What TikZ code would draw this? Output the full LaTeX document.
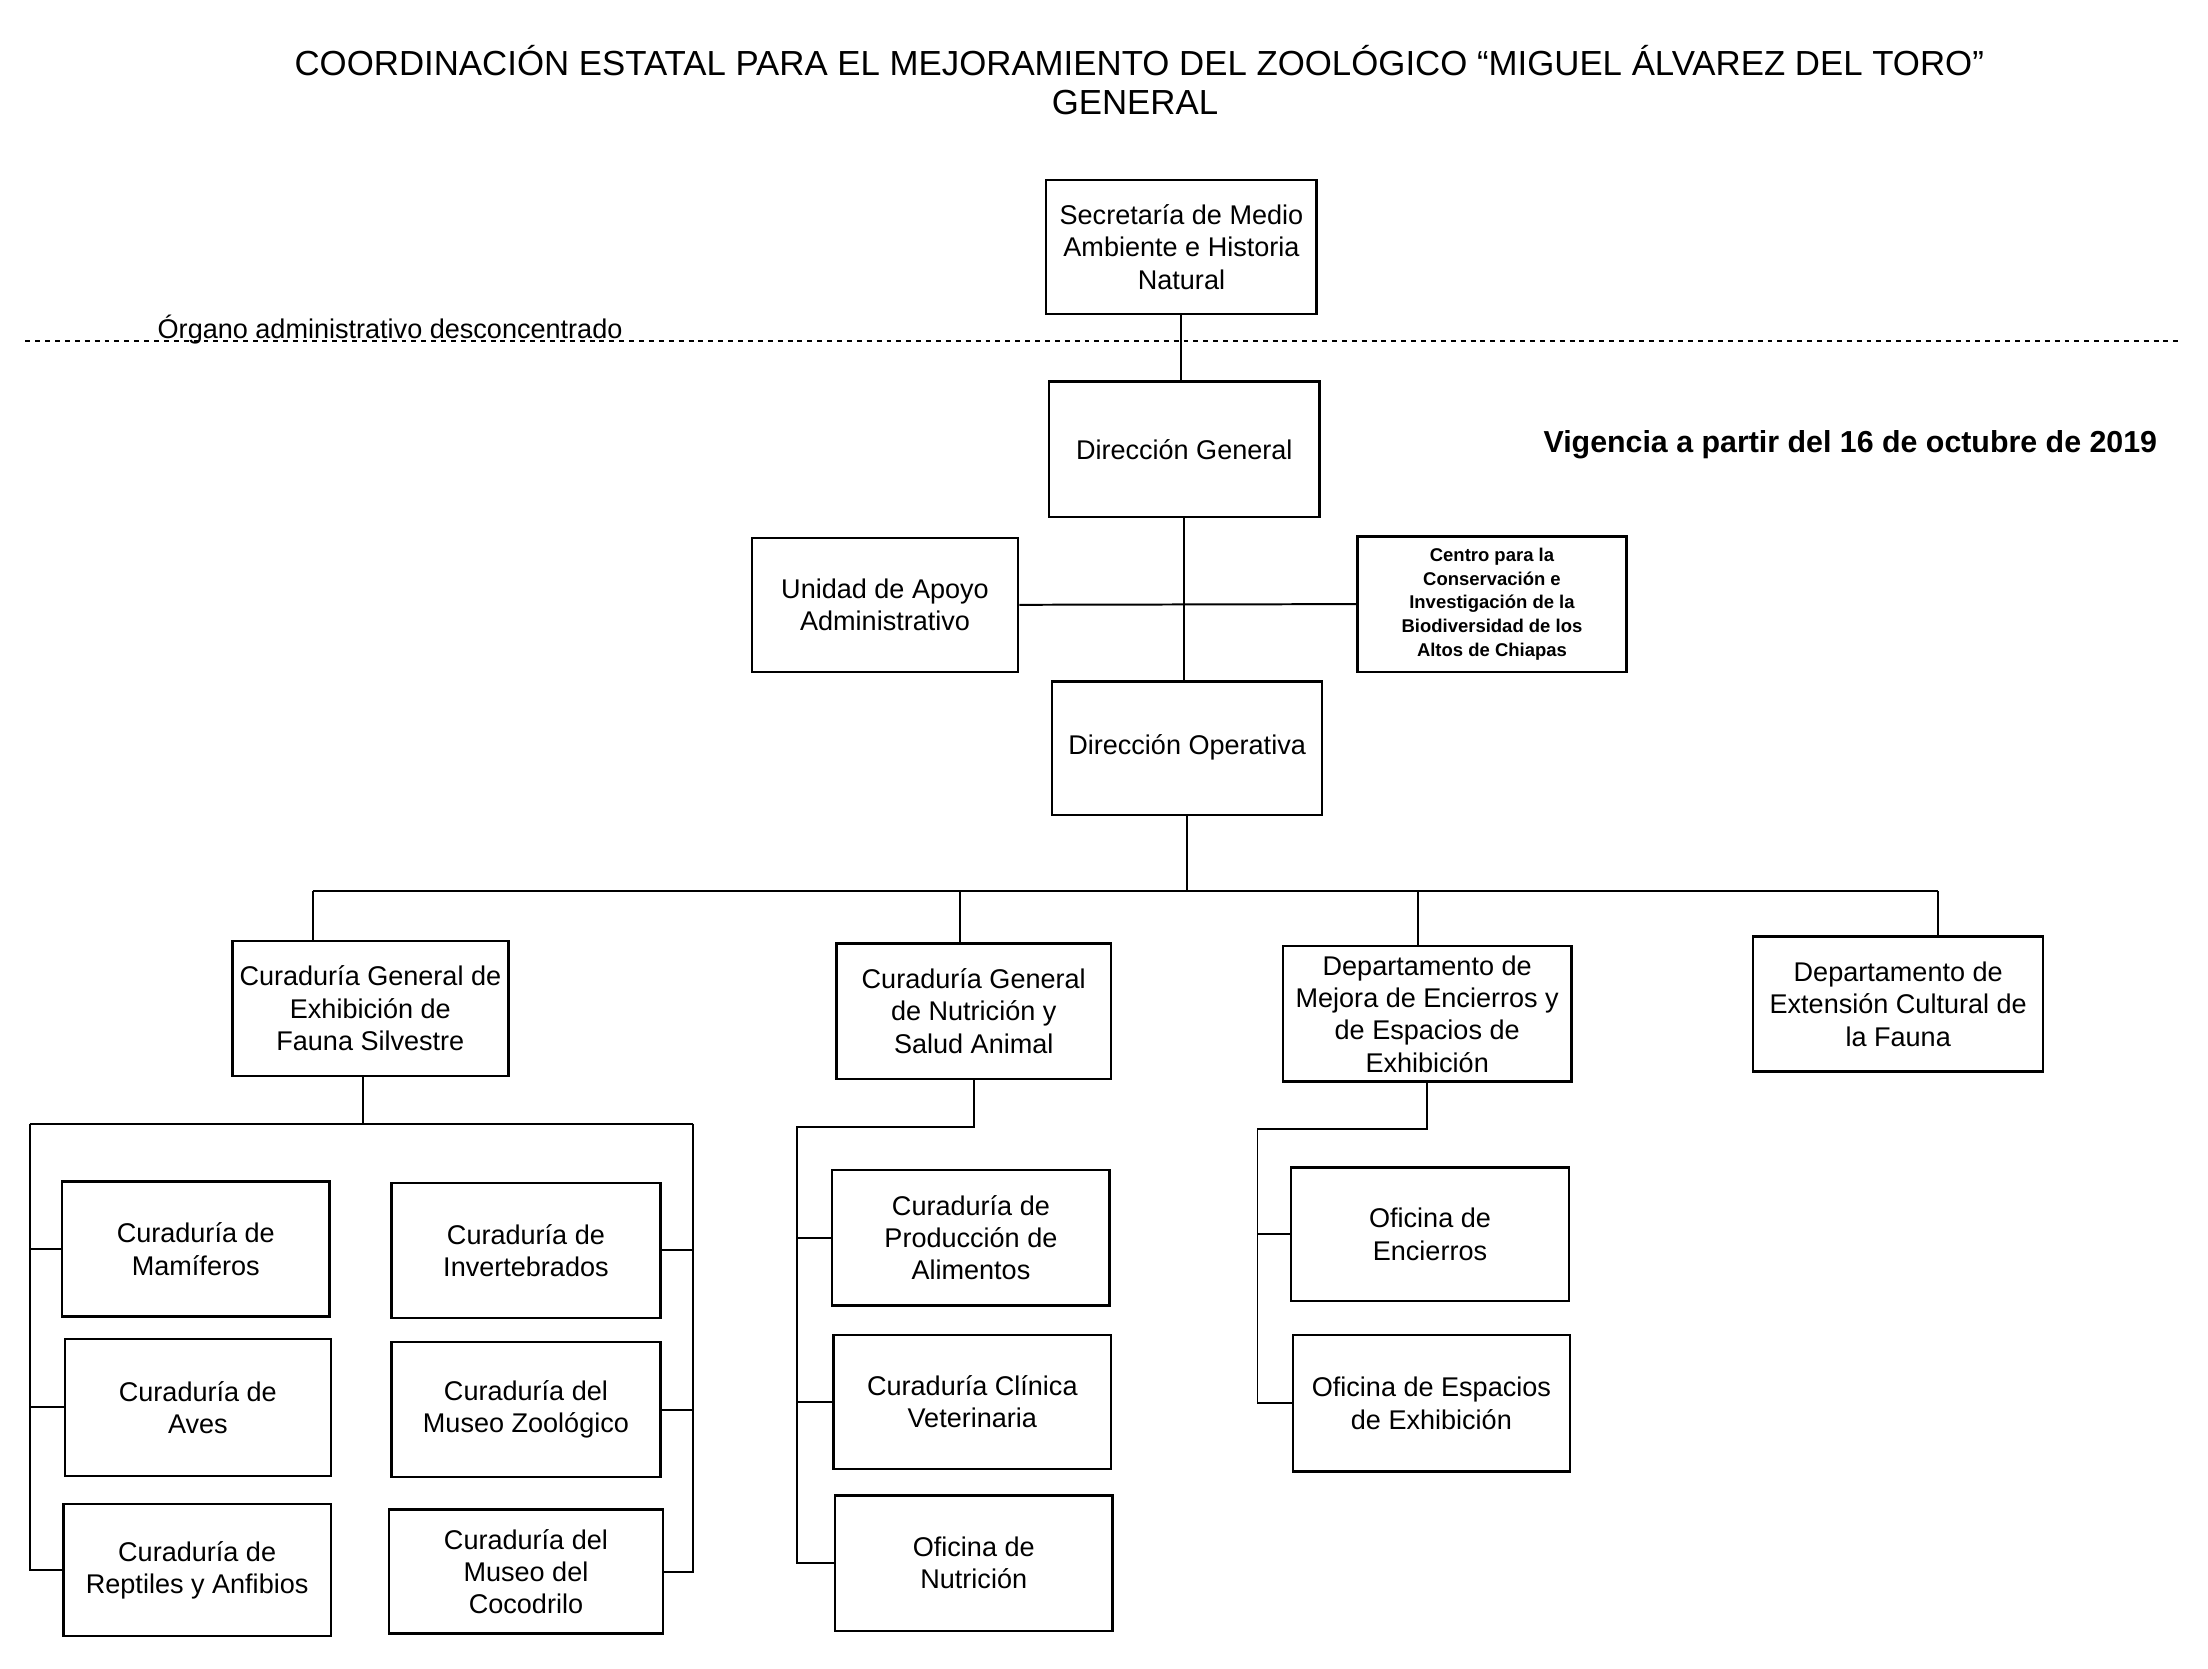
\documentclass[tikz,border=0pt]{standalone}
\usepackage{fontspec}
\setmainfont{Liberation Sans}
\newcommand{\cajafont}{\fontsize{16.4}{19.6}\selectfont}

\begin{document}
\begin{tikzpicture}[x=0.03cm, y=-0.03cm, line width=1.2pt,
  caja/.style 2 args={draw, line width=1.4pt, align=center, inner sep=0pt,
    minimum width=#1*0.03cm, minimum height=#2*0.03cm, font=\cajafont}]
\useasboundingbox (0,0) rectangle (1568,1185);
% Encabezado
\node (titulo) at (809,43) {\fontsize{21.1}{24}\selectfont COORDINACIÓN ESTATAL PARA EL MEJORAMIENTO DEL ZOOLÓGICO “MIGUEL ÁLVAREZ DEL TORO”};
\node (general) at (806,73) {\fontsize{21.1}{24}\selectfont GENERAL};
\node (vigencia) at (1314,316) {\fontsize{18.4}{21}\selectfont\bfseries Vigencia a partir del 16 de octubre de 2019};
% Sector
\node[caja={192}{95}] (secretaria) at (839,175.5) {Secretaría de Medio\\Ambiente e Historia\\Natural};
\coordinate (sepL) at (18,242);
\coordinate (sepR) at (1550,242);
\draw[dashed] (sepL) -- (sepR);
\node[font=\cajafont] (organo) at (277,234) {Órgano administrativo desconcentrado};
% Direcciones
\node[caja={192}{96}] (dirgen) at (841,319) {Dirección General};
\node[caja={189}{95}] (unidad) at (628.5,429.5) {Unidad de Apoyo\\Administrativo};
\node[caja={191}{96}, font=\fontsize{11.2}{14.4}\selectfont\bfseries] (centro) at (1059.5,429) {Centro para la\\Conservación e\\Investigación de la\\Biodiversidad de los\\Altos de Chiapas};
\node[caja={192}{95}] (dirop) at (843,531.5) {\raisebox{5pt}{Dirección Operativa}};
\draw (secretaria.south) -- (secretaria.south |- dirgen.north);
\draw (dirgen.south) -- (dirgen.south |- dirop.north);
\draw (unidad.east) -- (centro.west);
% Curadurías generales y departamentos
\node[caja={196}{96}] (cgexhib) at (263,716) {Curaduría General de\\Exhibición de\\Fauna Silvestre};
\node[caja={195}{96}] (cgnutri) at (691.5,718) {Curaduría General\\de Nutrición y\\Salud Animal};
\node[caja={205}{96}] (depmejora) at (1013.5,720) {Departamento de\\Mejora de Encierros y\\de Espacios de\\Exhibición};
\node[caja={206}{96}] (depext) at (1348,713) {Departamento de\\Extensión Cultural de\\la Fauna};
\coordinate (busL) at (222,633);
\coordinate (bus2) at (682,633);
\coordinate (bus3) at (1007,633);
\coordinate (busR) at (1376,633);
\draw (dirop.south) -- (dirop.south |- busL);
\draw (busL) -- (busR);
\draw (busL) -- (busL |- cgexhib.north);
\draw (bus2) -- (bus2 |- cgnutri.north);
\draw (bus3) -- (bus3 |- depmejora.north);
\draw (busR) -- (busR |- depext.north);
% Exhibición de fauna silvestre
\node[caja={190}{96}] (mamiferos) at (139,887) {Curaduría de\\Mamíferos};
\node[caja={189}{97}] (aves) at (140.5,999.5) {Curaduría de\\Aves};
\node[caja={190}{94}] (reptiles) at (140,1115) {Curaduría de\\Reptiles y Anfibios};
\node[caja={191}{96}] (invert) at (373.5,888) {Curaduría de\\Invertebrados};
\node[caja={191}{96}] (museozoo) at (373.5,1001) {Curaduría del\\Museo Zoológico};
\node[caja={195}{88}] (cocodrilo) at (373.5,1116) {Curaduría del\\Museo del\\Cocodrilo};
\coordinate (exL) at (21,798);
\coordinate (exR) at (492,798);
\coordinate (exTop) at (258,798);
\draw (exTop |- cgexhib.south) -- (exTop);
\draw (exL) -- (exR);
\draw (exL) |- (reptiles.west);
\draw (exL |- mamiferos.west) -- (mamiferos.west);
\draw (exL |- aves.west) -- (aves.west);
\draw (exR) |- (cocodrilo.east);
\draw (exR |- invert.east) -- (invert.east);
\draw (exR |- museozoo.east) -- (museozoo.east);
% Nutrición y salud animal
\node[caja={197}{96}] (produccion) at (689.5,879) {Curaduría de\\Producción de\\Alimentos};
\node[caja={197}{95}] (clinica) at (690.5,995.5) {Curaduría Clínica\\Veterinaria};
\node[caja={197}{96}] (ofnutri) at (691.5,1110) {Oficina de\\Nutrición};
\coordinate (nuL) at (566,800);
\draw (cgnutri.south) |- (nuL) |- (ofnutri.west);
\draw (nuL |- produccion.west) -- (produccion.west);
\draw (nuL |- clinica.west) -- (clinica.west);
% Mejora de encierros
\node[caja={197}{95}] (ofencierros) at (1015.5,876.5) {Oficina de\\Encierros};
\node[caja={197}{97}] (ofespacios) at (1016.5,996.5) {Oficina de Espacios\\de Exhibición};
\coordinate (meL) at (893,802);
\draw (depmejora.south) |- (meL) |- (ofespacios.west);
\draw (meL |- ofencierros.west) -- (ofencierros.west);
\end{tikzpicture}
\end{document}
